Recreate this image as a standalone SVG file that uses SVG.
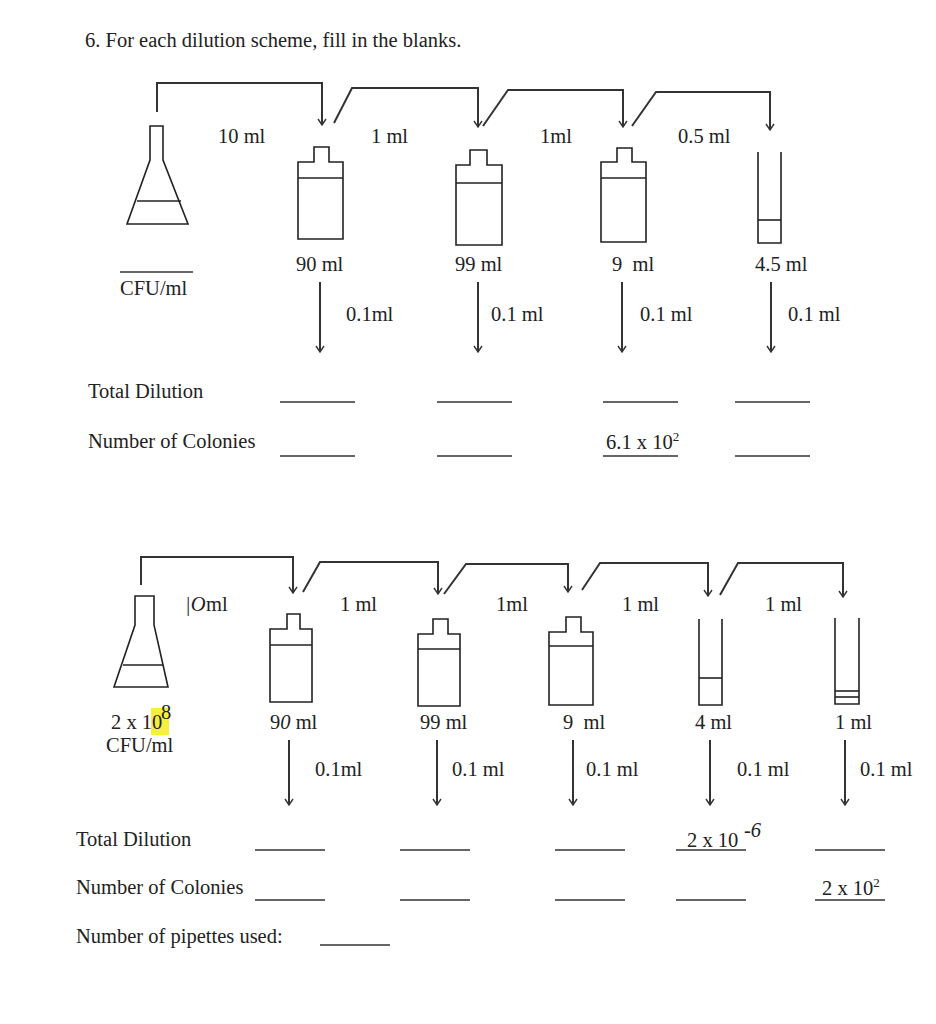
<svg xmlns="http://www.w3.org/2000/svg" width="936" height="1024" viewBox="0 0 936 1024">
<style>
text{font-family:"Liberation Serif","Times New Roman",serif;font-size:20.5px;fill:#222}
.s{fill:none;stroke:#222;stroke-width:1.6}
.c{fill:none;stroke:#333;stroke-width:2}
.b{stroke:#333;stroke-width:1.3}
</style>
<defs>
<marker id="d" viewBox="0 0 10 10" refX="5" refY="9" markerWidth="10" markerHeight="10" markerUnits="userSpaceOnUse" orient="0"><path d="M1 3 L5 9 L9 3" fill="none" stroke="#333" stroke-width="1.4"/></marker></defs>
<rect width="936" height="1024" fill="#fff"/>
<text x="85" y="47" font-size="21.5">6. For each dilution scheme, fill in the blanks.</text>
<g id="connectors">
<path class="c" marker-end="url(#d)" d="M157 112 V83 H322 V125"/>
<path class="c" marker-end="url(#d)" d="M334 123 L352 88 H478 V127"/>
<path class="c" marker-end="url(#d)" d="M483 126 L508 90 H623 V127"/>
<path class="c" marker-end="url(#d)" d="M632 126 L656 92 H770 V130"/>
<path class="c" marker-end="url(#d)" d="M320 282 V352"/>
<path class="c" marker-end="url(#d)" d="M478 282 V352"/>
<path class="c" marker-end="url(#d)" d="M622 282 V352"/>
<path class="c" marker-end="url(#d)" d="M771 282 V352"/>
<path class="c" marker-end="url(#d)" d="M141 585 V557 H293 V593"/>
<path class="c" marker-end="url(#d)" d="M303 592 L320 562 H438 V594"/>
<path class="c" marker-end="url(#d)" d="M444 594 L466 564 H568 V592"/>
<path class="c" marker-end="url(#d)" d="M582 590 L600 563 H708 V596"/>
<path class="c" stroke-width="2.6" marker-end="url(#d)" d="M720 595 L738 563 H843 V597"/>
<path class="c" marker-end="url(#d)" d="M289 740 V805"/>
<path class="c" marker-end="url(#d)" d="M437 740 V805"/>
<path class="c" marker-end="url(#d)" d="M573 740 V805"/>
<path class="c" marker-end="url(#d)" d="M710 740 V805"/>
<path class="c" marker-end="url(#d)" d="M845 740 V805"/>
</g>
<g id="flask1"><path class="s" d="M150 126 H163 V160 L188 224 H127 L150 160 Z"/><line class="s" x1="137" y1="201" x2="181" y2="201"/></g>
<g id="bottle1"><path class="s" d="M314 162 V147 H329 V162 H343 V239 H298 V162 Z"/><line class="s" x1="298" y1="178" x2="343" y2="178"/></g>
<g id="bottle2"><path class="s" d="M470 165 V150 H487 V165 H502 V245 H456 V165 Z"/><line class="s" x1="456" y1="183" x2="502" y2="183"/></g>
<g id="bottle3"><path class="s" d="M617 162 V148 H632 V162 H646 V242 H601 V162 Z"/><line class="s" x1="601" y1="178" x2="646" y2="178"/></g>
<g id="tube1"><path class="s" d="M758 152 V243 H781 V152"/><line class="s" x1="758" y1="220" x2="781" y2="220"/></g>
<g id="labels1">
<text x="218" y="143">10 ml</text><text x="371" y="143">1 ml</text><text x="540" y="143">1ml</text><text x="678" y="143">0.5 ml</text>
<text x="296" y="271">90 ml</text><text x="455" y="271">99 ml</text><text x="612" y="271" xml:space="preserve">9  ml</text><text x="755" y="271">4.5 ml</text>
<line class="b" x1="120" y1="272" x2="193" y2="272"/><text x="120" y="295">CFU/ml</text>
<text x="346" y="321">0.1ml</text><text x="491" y="321">0.1 ml</text><text x="640" y="321">0.1 ml</text><text x="788" y="321">0.1 ml</text>
<text x="88" y="398">Total Dilution</text>
<line class="b" x1="280" y1="402" x2="355" y2="402"/><line class="b" x1="437" y1="402" x2="512" y2="402"/><line class="b" x1="603" y1="402" x2="678" y2="402"/><line class="b" x1="735" y1="402" x2="810" y2="402"/>
<text x="88" y="448">Number of Colonies</text>
<line class="b" x1="280" y1="456" x2="355" y2="456"/><line class="b" x1="437" y1="456" x2="512" y2="456"/><line class="b" x1="603" y1="456" x2="678" y2="456"/><line class="b" x1="735" y1="456" x2="810" y2="456"/>
<text x="606" y="449">6.1 x 10<tspan font-size="13" dy="-8">2</tspan></text>
</g>
<g id="flask2"><path class="s" d="M135 596 H154 V625 L168 687 H114 L135 625 Z"/><line class="s" x1="123" y1="665" x2="163" y2="665"/></g>
<g id="bottle4"><path class="s" d="M287 629 V614 H300 V629 H312 V702 H270 V629 Z"/><line class="s" x1="270" y1="645" x2="312" y2="645"/></g>
<g id="bottle5"><path class="s" d="M433 634 V619 H448 V634 H460 V706 H418 V634 Z"/><line class="s" x1="418" y1="649" x2="460" y2="649"/></g>
<g id="bottle6"><path class="s" d="M566 632 V617 H581 V632 H593 V705 H549 V632 Z"/><line class="s" x1="549" y1="646" x2="593" y2="646"/></g>
<g id="tube2"><path class="s" d="M699 619 V705 H722 V619"/><line class="s" x1="699" y1="678" x2="722" y2="678"/></g>
<g id="tube3"><path class="s" d="M835 618 V704 H859 V618"/><line class="s" x1="835" y1="691" x2="859" y2="691"/><line class="s" x1="835" y1="697" x2="859" y2="697"/></g>
<g id="labels2">
<text x="185" y="611" font-style="italic">|O</text><text x="206" y="611">ml</text>
<text x="340" y="611">1 ml</text><text x="496" y="611">1ml</text><text x="622" y="611">1 ml</text><text x="765" y="611">1 ml</text>
<rect x="151" y="708" width="18" height="27" fill="#f5f03a"/>
<text x="111" y="729">2 x 10</text><text x="161" y="719" font-family="Liberation Sans,Arial,sans-serif" font-size="17" fill="#000">8</text>
<text x="106" y="752">CFU/ml</text>
<text x="270" y="729">9<tspan font-style="italic">0</tspan> ml</text><text x="420" y="729">99 ml</text><text x="563" y="729" xml:space="preserve">9  ml</text><text x="695" y="729">4 ml</text><text x="835" y="729">1 ml</text>
<text x="315" y="776">0.1ml</text><text x="452" y="776">0.1 ml</text><text x="586" y="776">0.1 ml</text><text x="737" y="776">0.1 ml</text><text x="860" y="776">0.1 ml</text>
<text x="76" y="846">Total Dilution</text>
<line class="b" x1="255" y1="850" x2="325" y2="850"/><line class="b" x1="400" y1="850" x2="470" y2="850"/><line class="b" x1="555" y1="850" x2="625" y2="850"/><line class="b" x1="676" y1="850" x2="746" y2="850"/><line class="b" x1="815" y1="850" x2="885" y2="850"/>
<text x="687" y="847">2 x 10</text><text x="744" y="837" font-size="15" font-style="italic">-6</text>
<text x="76" y="894">Number of Colonies</text>
<line class="b" x1="255" y1="900" x2="325" y2="900"/><line class="b" x1="400" y1="900" x2="470" y2="900"/><line class="b" x1="555" y1="900" x2="625" y2="900"/><line class="b" x1="676" y1="900" x2="746" y2="900"/><line class="b" x1="815" y1="900" x2="885" y2="900"/>
<text x="822" y="895">2 x 10<tspan font-size="13" dy="-8">2</tspan></text>
<text x="76" y="943">Number of pipettes used:</text>
<line class="b" x1="320" y1="945" x2="390" y2="945"/>
</g>
</svg>
